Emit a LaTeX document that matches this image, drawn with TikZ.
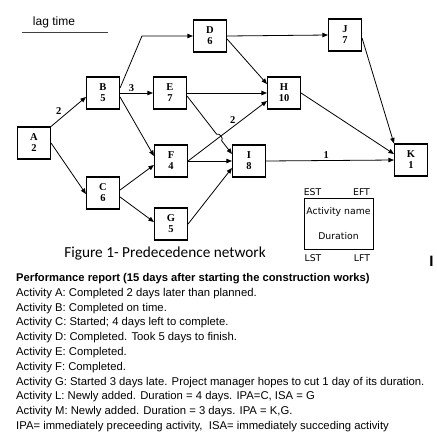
\documentclass[tikz,border=0pt]{standalone}
\usepackage{fontspec}
\setmainfont{Liberation Sans}
\newfontfamily\actfont{Liberation Serif}
\newfontfamily\capfont{Carlito}
\newfontfamily\legfont{DejaVu Sans}
\usepackage{tikz}
\usetikzlibrary{arrows.meta,positioning,calc}
\tikzset{
  >={Triangle[length=5.5pt,width=4.4pt]},
  act/.style    ={draw,line width=1.1pt,minimum width=33pt,minimum height=32pt,
                  inner sep=0pt,align=center,
                  font=\actfont\bfseries\fontsize{10.5}{11}\selectfont},
  link/.style   ={->,line width=0.8pt},
  lag/.style    ={font=\actfont\bfseries\fontsize{10.5}{11}\selectfont,inner sep=1.5pt},
  leg/.style    ={font=\legfont\fontsize{9.3}{10}\selectfont,inner sep=1pt},
  rep/.style    ={anchor=base west,inner sep=0pt,font=\fontsize{11.3}{13}\selectfont},
}
\begin{document}
\begin{tikzpicture}[x=1pt,y=1pt]
\useasboundingbox (0,0) rectangle (437,-440);
% heading
\node[font=\fontsize{12}{13}\selectfont,inner sep=0pt] (lagtime) at (54,-22) {lag time};
\draw[line width=0.9pt,draw=black!75] (22,-32) -- (108,-32);
% activities
\node[act] (A) at (34,-143) {A\\2};
\node[act] (B) at (103,-93) {B\\5};
\node[act] (C) at (103,-193) {C\\6};
\node[act] (D) at (210,-36) {D\\6};
\node[act] (E) at (170,-93) {E\\7};
\node[act] (F) at (171,-161) {F\\4};
\node[act] (G) at (171,-224) {G\\5};
\node[act] (H) at (284,-93) {H\\10};
\node[act] (I) at (249,-161) {I\\8};
\node[act] (J) at (345,-35) {J\\7};
\node[act] (K) at (411,-160) {K\\1};
% links
\draw[link] (A.north east) -- node[lag,pos=0.35,above left] {2} ([yshift=-4pt]B.west);
\draw[link] (A.east) -- ([yshift=-1pt]C.west);
\draw[link] (B.east) -- node[lag,pos=0.35,above] {3} (E.west);
\draw[link] ([yshift=5pt]B.east) -- ([xshift=-51pt]D.west) -- (D.west);
\draw[link] ([yshift=-4pt]B.east) -- ([yshift=5pt]F.west);
\draw[link] ([yshift=3pt]C.east) -- ([yshift=-4pt]F.west);
\draw[link] ([yshift=-4pt]C.east) -- ([yshift=2pt]G.west);
\draw[link] (D.east) -- (J.west);
\draw[link] ([yshift=-3pt]D.east) -- ([yshift=9pt]H.west);
\draw[link] (E.east) -- (H.west);
\coordinate (ei1) at ([yshift=-3pt]E.east);
\coordinate (ei2) at ([yshift=7pt]I.west);
\draw[link] (ei1) -- ($(ei1)!0.66!(ei2)$) to[bend left=90] ($(ei1)!0.77!(ei2)$) -- (ei2);
\draw[link] (F.east) -- node[lag,pos=0.6,above left,xshift=2pt] {2} ([yshift=-8pt]H.west);
\draw[link] (F.east) -- (I.west);
\draw[link] (G.east) -- ([yshift=-7pt]I.west);
\draw[link] (H.east) -- ([yshift=6pt]K.west);
\draw[link] (I.east) -- node[lag,pos=0.47,above] {1} (K.west);
\draw[link] ([yshift=-3pt]J.east) -- (K.north west);
% legend
\node[draw,line width=0.7pt,minimum width=69pt,minimum height=51pt,inner sep=0pt] (key) at (338.5,-223.5) {};
\node[leg] (est) at (312.5,-192) {EST};
\node[leg] (eft) at (361.5,-192) {EFT};
\node[leg] (lst) at (313,-258) {LST};
\node[leg] (lft) at (362,-258) {LFT};
\node[leg] (kname) at (338.5,-212) {Activity name};
\node[leg] (kdur) at (338.5,-236) {Duration};
\node[font=\capfont\fontsize{15.3}{17}\selectfont,inner sep=0pt] (caption) at (165,-253) {Figure 1- Predecedence network};
\node[font=\bfseries\fontsize{15}{15}\selectfont,inner sep=0pt] (bar) at (431.5,-261) {I};
% report
\node[rep,font=\bfseries\fontsize{11.2}{13}\selectfont] (r0) at (16,-281.5) {Performance report (15 days after starting the construction works)};
\node[rep] (r1) at (16,-296.3) {Activity A: Completed 2 days later than planned.};
\node[rep] (r2) at (16,-311.1) {Activity B: Completed on time.};
\node[rep] (r3) at (16,-325.9) {Activity C: Started; 4 days left to complete.};
\node[rep] (r4) at (16,-340.7) {Activity D: Completed. Took 5 days to finish.};
\node[rep] (r5) at (16,-355.5) {Activity E: Completed.};
\node[rep] (r6) at (16,-370.3) {Activity F: Completed.};
\node[rep] (r7) at (16,-385.1) {Activity G: Started 3 days late. Project manager hopes to cut 1 day of its duration.};
\node[rep] (r8) at (16,-399.9) {Activity L: Newly added. Duration = 4 days. IPA=C, ISA = G};
\node[rep] (r9) at (16,-414.7) {Activity M: Newly added. Duration = 3 days. IPA = K,G.};
\node[rep] (r10) at (16,-429.5) {IPA= immediately preceeding activity,\ \ ISA= immediately succeding activity};
\end{tikzpicture}
\end{document}
